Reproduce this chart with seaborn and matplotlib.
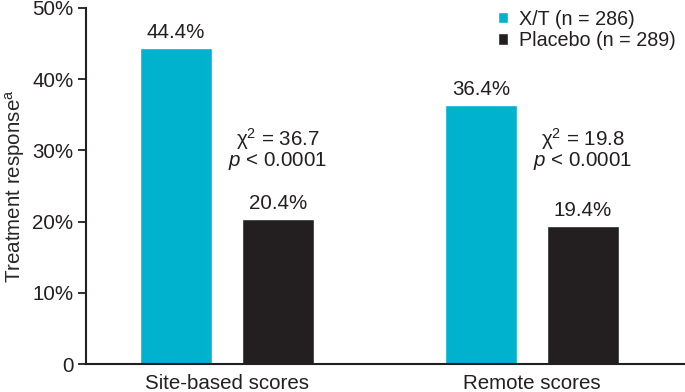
import seaborn as sns
import matplotlib.pyplot as plt
import pandas as pd
from matplotlib.ticker import FuncFormatter

categories = ['Site-based scores', 'Remote scores']
groups = ['X/T (n = 286)', 'Placebo (n = 289)']
xt_values = [44.4, 36.4]
placebo_values = [20.4, 19.4]
chi_values = [36.7, 19.8]
p_labels = ['< 0.0001', '< 0.0001']
colors = ['#00B2CE', '#231F20']

sns.set_style('white')
plt.rcParams['font.family'] = ['Liberation Sans', 'DejaVu Sans']
plt.rcParams['mathtext.fontset'] = 'custom'
plt.rcParams['mathtext.rm'] = 'Liberation Sans'
plt.rcParams['mathtext.it'] = 'Liberation Sans:italic'

df = pd.DataFrame({
    'category': categories * 2,
    'group': [groups[0]] * 2 + [groups[1]] * 2,
    'value': xt_values + placebo_values,
})

fs = 14.8
fig = plt.figure(figsize=(6.85, 3.92), dpi=100)
ax = fig.add_axes([0.1255, 0.0714, 0.8745, 0.9082])

sns.barplot(data=df, x='category', y='value', hue='group', palette=colors,
            width=0.67, gap=0.29, saturation=1, ax=ax)

for cont in ax.containers:
    ax.bar_label(cont, fmt='%.1f%%', padding=4, fontsize=fs, color='#231F20')

# chi-square annotations above placebo bars
for i, (chi, p) in enumerate(zip(chi_values, p_labels)):
    ax.text(i + 0.167, 31.6, 'χ$^{\\mathregular{2}}$ = %.1f' % chi,
            ha='center', va='center', fontsize=fs, color='#231F20')
    ax.text(i + 0.167, 28.5, '$\\mathit{p}$ ' + p,
            ha='center', va='center', fontsize=fs, color='#231F20')

ax.set_xlim(-0.462, 1.502)
ax.set_ylim(0, 50)
ax.set_yticks([0, 10, 20, 30, 40, 50])
ax.yaxis.set_major_formatter(FuncFormatter(lambda v, pos: '0' if v == 0 else '%d%%' % v))
ax.set_xlabel('')
ax.set_ylabel('Treatment response$^{\\mathregular{a}}$', fontsize=fs, labelpad=4)
ax.tick_params(axis='y', direction='out', length=6, width=1.3, color='#231F20',
               labelsize=fs, left=True, pad=3)
ax.tick_params(axis='x', length=0, labelsize=fs, pad=7)
for lbl in ax.get_xticklabels() + ax.get_yticklabels():
    lbl.set_color('#231F20')

sns.despine(ax=ax)
for s in ['left', 'bottom']:
    ax.spines[s].set_linewidth(1.5)
    ax.spines[s].set_color('#231F20')

leg = ax.legend(loc='upper right', bbox_to_anchor=(1.015, 1.045), frameon=False,
                fontsize=14.2, handlelength=0.5, handleheight=0.5, handletextpad=0.6,
                labelspacing=0.12)
for t in leg.get_texts():
    t.set_color('#231F20')

fig.savefig('out.png', dpi=100)
